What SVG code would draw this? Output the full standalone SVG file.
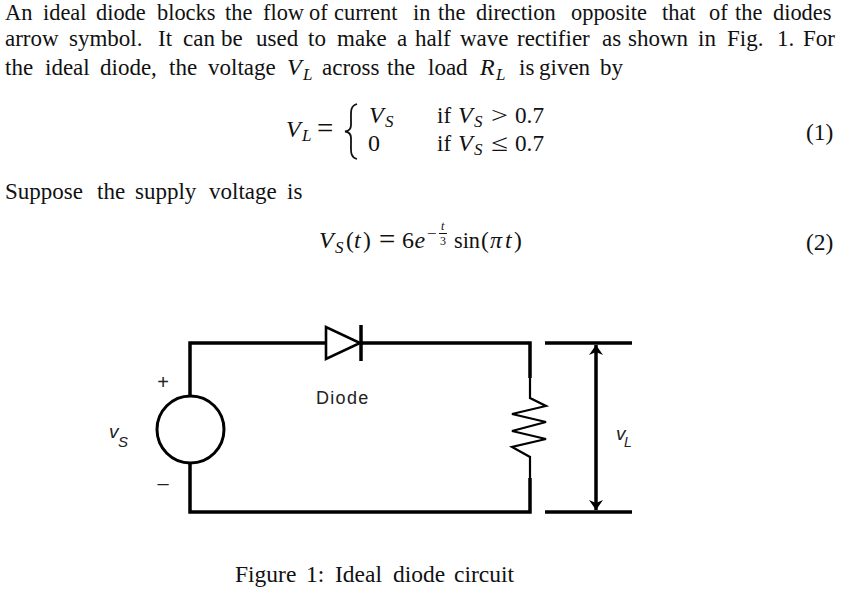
<svg xmlns="http://www.w3.org/2000/svg" width="841" height="591" viewBox="0 0 841 591">
<style>
.t{font-family:"Liberation Serif","Times New Roman",serif;font-size:23px;fill:#111}
.b{font-size:23.500px}
.m{font-size:24px}
.q{font-size:29px}
.i{font-style:italic}
.s{font-size:17px}
.xs{font-size:12px}
.a{font-family:"Liberation Sans",Arial,sans-serif;fill:#222}
.w{fill:none;stroke:#000;stroke-width:3.5}
.n{fill:none;stroke:#000;stroke-width:2.2;stroke-linejoin:miter}
</style>
<defs>
<marker id="ah" viewBox="0 0 10 14" refX="10" refY="7" markerWidth="10" markerHeight="14" markerUnits="userSpaceOnUse" orient="auto-start-reverse"><path d="M0 0L10 7L0 14L3 7Z" fill="#000"/></marker>
</defs>
<rect width="841" height="591" fill="#fff"/>
<g id="body-text">
<text class="t" y="20" style="font-size:22.400px"><tspan x="5">An</tspan> <tspan x="43">ideal</tspan> <tspan x="96">diode</tspan> <tspan x="157">blocks</tspan> <tspan x="225">the</tspan> <tspan x="263">flow</tspan> <tspan x="309">of</tspan> <tspan x="334">current</tspan> <tspan x="413">in</tspan> <tspan x="438">the</tspan> <tspan x="476">direction</tspan> <tspan x="571">opposite</tspan> <tspan x="662">that</tspan> <tspan x="709">of</tspan> <tspan x="735">the</tspan> <tspan x="773">diodes</tspan></text>
<text class="t" y="46"><tspan x="5">arrow</tspan> <tspan x="69">symbol.</tspan> <tspan x="158">It</tspan> <tspan x="183">can</tspan> <tspan x="221">be</tspan> <tspan x="256">used</tspan> <tspan x="308">to</tspan> <tspan x="337">make</tspan> <tspan x="397">a</tspan> <tspan x="415">half</tspan> <tspan x="460">wave</tspan> <tspan x="517">rectifier</tspan> <tspan x="602">as</tspan> <tspan x="628">shown</tspan> <tspan x="698">in</tspan> <tspan x="727">Fig.</tspan> <tspan x="777">1.</tspan> <tspan x="803">For</tspan></text>
<text class="t" y="75"><tspan x="5">the</tspan> <tspan x="45">ideal</tspan> <tspan x="100">diode,</tspan> <tspan x="169">the</tspan> <tspan x="208">voltage</tspan></text>
<text class="t m i" x="287" y="75">V</text><text class="t i s" x="303" y="80">L</text>
<text class="t" y="75"><tspan x="322">across</tspan> <tspan x="387">the</tspan> <tspan x="428">load</tspan></text>
<text class="t m i" x="480" y="75">R</text><text class="t i s" x="496" y="80">L</text>
<text class="t" y="75"><tspan x="519">is</tspan> <tspan x="539">given</tspan> <tspan x="600">by</tspan></text>
<text class="t" y="199"><tspan x="5">Suppose</tspan> <tspan x="97">the</tspan> <tspan x="135">supply</tspan> <tspan x="209">voltage</tspan> <tspan x="287">is</tspan></text>
<text class="t b" y="582"><tspan x="235">Figure</tspan> <tspan x="306">1:</tspan> <tspan x="335">Ideal</tspan> <tspan x="393">diode</tspan> <tspan x="454">circuit</tspan></text>
</g>
<g id="equation-1">
<text class="t m i" x="286" y="137">V</text><text class="t i s" x="302" y="141">L</text>
<text class="t q" x="317" y="138">=</text>
<path d="M357 104C350 106 351 112 351 120V125C351 129 349 131 345 131.500C349 132 351 134 351 138V143C351 151 350 157 357 159" fill="none" stroke="#111" stroke-width="1.800"/>
<text class="t m i" x="369" y="123">V</text><text class="t i s" x="385" y="127">S</text>
<text class="t m" x="368" y="151">0</text>
<text class="t" x="437" y="123">if</text>
<text class="t m i" x="458" y="123">V</text><text class="t i s" x="474" y="127">S</text>
<text class="t m" x="491" y="123" textLength="17" lengthAdjust="spacingAndGlyphs">&gt;</text>
<text class="t" x="515" y="123" textLength="29" lengthAdjust="spacingAndGlyphs">0.7</text>
<text class="t" x="437" y="151">if</text>
<text class="t m i" x="458" y="151">V</text><text class="t i s" x="474" y="155">S</text>
<text class="t m" x="491" y="151" textLength="17" lengthAdjust="spacingAndGlyphs">≤</text>
<text class="t" x="515" y="151" textLength="29" lengthAdjust="spacingAndGlyphs">0.7</text>
<text class="t b" x="806" y="140">(1)</text>
</g>
<g id="equation-2">
<text class="t m i" x="319" y="248">V</text><text class="t i s" x="335" y="253">S</text>
<text class="t b" x="346" y="248">(</text><text class="t m i" x="354" y="248">t</text><text class="t b" x="363" y="248">)</text>
<text class="t q" x="379" y="249">=</text>
<text class="t m" x="402" y="248">6</text><text class="t m i" x="414.500" y="248">e</text>
<text class="t s" x="427" y="239">−</text>
<text class="t i xs" x="441" y="230">t</text>
<path d="M439 233.500H447" stroke="#111" stroke-width="1"/>
<text class="t xs" x="440" y="245">3</text>
<text class="t b" x="454" y="248" textLength="26" lengthAdjust="spacingAndGlyphs">sin</text>
<text class="t b" x="481" y="248">(</text>
<text class="t m i" x="490" y="248">π</text><text class="t m i" x="505" y="248">t</text><text class="t b" x="514" y="248">)</text>
<text class="t b" x="806" y="250">(2)</text>
</g>
<g id="connectors">
<path class="w" d="M190 395V343H326M361 343H530V378M190 464V512H530V478"/>
<path class="n" d="M530 378V398L546 406L512 414L546 422L512 431L546 439L512 447L530 457V478"/>
</g>
<g id="source">
<circle cx="190.500" cy="429.500" r="33.500" fill="#fff" stroke="#000" stroke-width="3"/>
<text class="a" x="163" y="389" font-size="20" text-anchor="middle">+</text>
<text class="a" x="163" y="490" font-size="20" text-anchor="middle">–</text>
<text class="a" x="109" y="438" font-size="19" font-style="italic">v</text>
<text class="a" x="118" y="447" font-size="15" font-style="italic">S</text>
</g>
<g id="diode">
<path d="M326 327V359L360 343Z" fill="#fff" stroke="#000" stroke-width="2.600"/>
<path d="M361 325V361" stroke="#000" stroke-width="3.500"/>
<text class="a" x="316" y="404" font-size="18" letter-spacing="1.300">Diode</text>
</g>
<g id="load-voltage">
<path class="w" d="M545 343H632M545 512H632"/>
<path d="M596 345V510" stroke="#000" stroke-width="3.500" marker-start="url(#ah)" marker-end="url(#ah)"/>
<text class="a" x="616" y="440" font-size="19" font-style="italic">v</text>
<text class="a" x="624" y="447" font-size="14" font-style="italic">L</text>
</g>
</svg>
